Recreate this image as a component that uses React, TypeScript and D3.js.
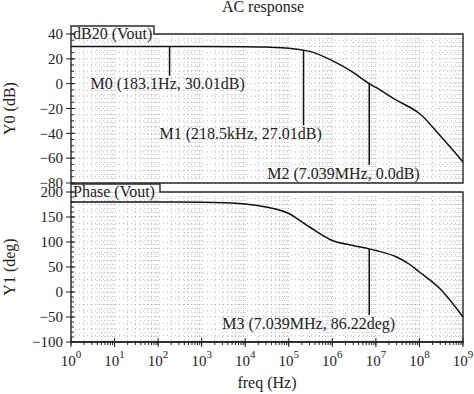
import React from 'react';
import * as d3 from 'd3';

// sweep frequencies (Hz) and the two traces
const freqs = [1, 10, 100, 1e3, 1e4, 3e4, 1e5, 2.185e5, 3e5, 1e6, 3e6, 7.039e6, 1e7, 3e7, 6e7, 1e8, 3e8, 1e9];
const gainDb = [30.01, 30.01, 30.01, 30.0, 29.8, 29.5, 28.6, 27.01, 26.0, 18.5, 9, 0, -3, -13.5, -19, -24, -42, -63];
const phaseDeg = [180, 180, 180, 179.5, 176, 170, 157, 138, 130, 103, 93, 86.22, 83, 70, 55, 40, 6, -50];

const gainTicks = [40, 20, 0, -20, -40, -60, -80];
const phaseTicks = [200, 150, 100, 50, 0, -50, -100];
const decades = [0, 1, 2, 3, 4, 5, 6, 7, 8, 9];

// markers: panel, freq, value, level where the label sits, label text
const markerNames = ['M0', 'M1', 'M2', 'M3'];
const markerPanel = ['gain', 'gain', 'gain', 'phase'];
const markerFreq = [183.1, 218.5e3, 7.039e6, 7.039e6];
const markerValue = [30.01, 27.01, 0.0, 86.22];
const markerLabelLevel = [0, -40, -72, -62];
const markerText = ['M0 (183.1Hz, 30.01dB)', 'M1 (218.5kHz, 27.01dB)', 'M2 (7.039MHz, 0.0dB)', 'M3 (7.039MHz, 86.22deg)'];
const markerLabelDx = [-79, -144, -102, -147];

const W = 474;
const H = 394;
const left = 71;
const right = 463;
const font = '"Liberation Serif", "Times New Roman", serif';

const App = () => {
  const x = d3.scaleLog().domain([1, 1e9]).range([left, right]);
  const yGain = d3.scaleLinear().domain([-80, 40]).range([183, 34]);
  const yPhase = d3.scaleLinear().domain([-100, 200]).range([342, 192]);

  const minorFreqs: number[] = [];
  decades.slice(0, -1).forEach((d) => {
    for (let m = 1; m < 10; m++) minorFreqs.push(m * Math.pow(10, d));
  });
  minorFreqs.push(1e9);

  const panels = [
    { key: 'gain', y: yGain, values: gainDb, ticks: gainTicks, step: 5, tickStep: 5, tab: 'dB20 (Vout)', tabW: 83, title: 'Y0 (dB)' },
    { key: 'phase', y: yPhase, values: phaseDeg, ticks: phaseTicks, step: 12.5, tickStep: 10, tab: 'Phase (Vout)', tabW: 89, title: 'Y1 (deg)' },
  ];

  return (
    <svg width={W} height={H} style={{ position: 'absolute', left: 0, top: 0, background: '#fff' }} fontFamily={font}>
      <text x={263} y={12} textAnchor="middle" fontSize={16} fill="#222">AC response</text>

      {panels.map((p) => {
        const [lo, hi] = p.y.domain();
        const y0 = p.y(hi);
        const y1 = p.y(lo);
        const gridVals = d3.range(lo, hi + 0.01, p.step);
        const minorTicks = d3.range(lo, hi + 0.01, p.tickStep);
        const line = d3
          .line<number>()
          .x((_, i) => x(freqs[i]))
          .y((v) => p.y(v))
          .curve(d3.curveMonotoneX);
        return (
          <g key={p.key}>
            {/* dotted grid */}
            <g stroke="#9a9a9a" strokeWidth={0.7} strokeDasharray="1,3">
              {minorFreqs.map((f, i) => (
                <line key={'v' + i} x1={x(f)} x2={x(f)} y1={y0} y2={y1} />
              ))}
              {gridVals.map((v, i) => (
                <line key={'h' + i} x1={left} x2={right} y1={p.y(v)} y2={p.y(v)} />
              ))}
            </g>

            {/* frame with label tab */}
            <path
              d={`M${left},${y1}V${y0 - 8}H${left + p.tabW}V${y0}H${right}V${y1}Z`}
              fill="none"
              stroke="#2a2a2a"
              strokeWidth={1.4}
            />
            <text x={left + 2} y={y0 + 5} fontSize={16} fill="#222">{p.tab}</text>

            {/* left axis ticks */}
            <g stroke="#222" strokeWidth={1}>
              {minorTicks.map((v, i) => (
                <line key={'mt' + i} x1={left} x2={left + 3} y1={p.y(v)} y2={p.y(v)} />
              ))}
              {p.ticks.map((v) => (
                <line key={'t' + v} x1={left - 5} x2={left + 4} y1={p.y(v)} y2={p.y(v)} />
              ))}
            </g>
            {p.ticks.map((v) => (
              <text key={'l' + v} x={left - 8} y={p.y(v)} dy="0.35em" textAnchor="end" fontSize={15} fill="#222">
                {v < 0 ? '\u2212' + Math.abs(v) : v}
              </text>
            ))}
            <text
              transform={`translate(15,${(y0 + y1) / 2}) rotate(-90)`}
              textAnchor="middle"
              fontSize={16}
              fill="#222"
            >
              {p.title}
            </text>

            {/* trace */}
            <path d={line(p.values) || ''} fill="none" stroke="#111" strokeWidth={1.5} />

            {/* markers */}
            {markerNames.map((m, i) => {
              if (markerPanel[i] !== p.key) return null;
              const mx = x(markerFreq[i]);
              const ly = p.y(markerLabelLevel[i]);
              return (
                <g key={m}>
                  <line x1={mx} x2={mx} y1={p.y(markerValue[i])} y2={ly - 8} stroke="#111" strokeWidth={1.5} />
                  <text x={mx + markerLabelDx[i]} y={ly} dy="0.35em" fontSize={16} fill="#222">
                    {markerText[i]}
                  </text>
                </g>
              );
            })}
          </g>
        );
      })}

      {/* bottom frequency axis */}
      <g stroke="#222" strokeWidth={1}>
        <line x1={left} x2={right} y1={342} y2={342} strokeWidth={1.4} />
        {minorFreqs.map((f, i) => (
          <line key={'bx' + i} x1={x(f)} x2={x(f)} y1={342} y2={345} />
        ))}
        {decades.map((d) => (
          <line key={'bd' + d} x1={x(Math.pow(10, d))} x2={x(Math.pow(10, d))} y1={338} y2={347} />
        ))}
      </g>
      {decades.map((d) => (
        <text key={'xl' + d} x={x(Math.pow(10, d))} y={366} textAnchor="middle" fontSize={15} fill="#222">
          10<tspan dy={-8} fontSize={11}>{d}</tspan>
        </text>
      ))}
      <text x={267} y={388} textAnchor="middle" fontSize={16} fill="#222">freq (Hz)</text>
    </svg>
  );
};

export default App;
